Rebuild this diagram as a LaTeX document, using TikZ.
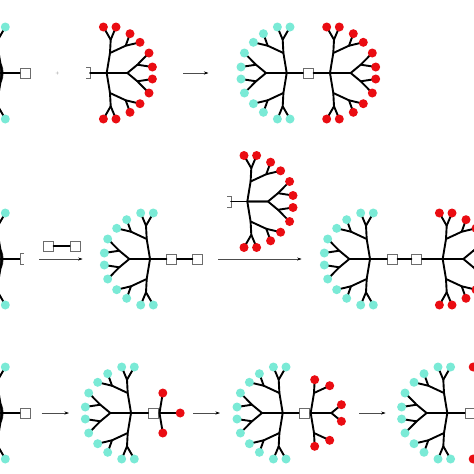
\documentclass[tikz,border=0pt]{standalone}
\usetikzlibrary{arrows.meta}
\definecolor{dred}{RGB}{234,12,18}
\definecolor{dcyan}{RGB}{122,234,214}
\tikzset{
  branch/.style={line width=1.9pt, line cap=round, line join=round},
  linker/.style={draw=gray!85!black, fill=white, line width=0.7pt,
                 minimum size=10pt, inner sep=0pt},
  brk/.style={draw=gray!85!black, line width=0.7pt},
  react/.style={draw=gray!60!black, line width=0.6pt,
                -{Stealth[length=4.5pt,width=3pt,color=black]}},
}
% dendrons: core at (#1,#2), facing #3 (1 right, -1 left), leaves in #4
\newcommand{\dendI}[4]{%
  \begin{scope}[shift={(#1,#2)},xscale=#3]
    \draw[branch] (0,0) -- (20.7,0);
    \draw[branch] (3.3,-20) -- (0,0) -- (3.3,20);
    \foreach \x/\y in {3.3/-20, 20.7/0, 3.3/20}
      \fill[#4] (\x,\y) circle (4.5pt);
  \end{scope}}
\newcommand{\dendII}[4]{%
  \begin{scope}[shift={(#1,#2)},xscale=#3]
    \foreach \s in {1,-1}{
      \begin{scope}[yscale=\s]
        \draw[branch] (0,0) -- (3.3,-20) -- (4,-33.3);
        \draw[branch] (3.3,-20) -- (19,-27.3);
        \draw[branch] (0,0) -- (20.7,0) -- (30.7,-8.3);
      \end{scope}}
    \foreach \s in {1,-1}{
      \begin{scope}[yscale=\s]
        \foreach \x/\y in {4/-33.3, 19/-27.3, 30.7/-8.3}
          \fill[#4] (\x,\y) circle (4.5pt);
      \end{scope}}
  \end{scope}}
\newcommand{\dendIII}[4]{%
  \begin{scope}[shift={(#1,#2)},xscale=#3]
    \foreach \s in {1,-1}{
      \begin{scope}[yscale=\s]
        \draw[branch] (0,0) -- (3.3,-20) -- (4,-33.3) -- (-3.3,-46);
        \draw[branch] (4,-33.3) -- (9.3,-46);
        \draw[branch] (3.3,-20) -- (19,-27.3) -- (23.3,-39.3);
        \draw[branch] (19,-27.3) -- (33.3,-30.7);
        \draw[branch] (0,0) -- (20.7,0) -- (30.7,-8.3) -- (42.3,-20);
        \draw[branch] (30.7,-8.3) -- (45.7,-6);
      \end{scope}}
    \foreach \s in {1,-1}{
      \begin{scope}[yscale=\s]
        \foreach \x/\y in {-3.3/-46, 9.3/-46, 23.3/-39.3, 33.3/-30.7,
                           42.3/-20, 45.7/-6}
          \fill[#4] (\x,\y) circle (4.5pt);
      \end{scope}}
  \end{scope}}
% open end of a stem at (#1,#2), open toward -#3
\newcommand{\openend}[3]{%
  \begin{scope}[shift={(#1,#2)},xscale=#3]
    \draw[brk] (-2,-5.5) -- (2,-5.5) -- (2,5.5) -- (-2,5.5);
  \end{scope}}
\newcommand{\blob}[1]{\fill[black!85] (-2,#1) ellipse (5.5pt and 12pt);}

\begin{document}
\begin{tikzpicture}[x=1pt,y=-1pt]
  \clip (0,0) rectangle (474,474);
  \fill[white] (0,0) rectangle (474,474);
 %
 % row 1
  \blob{73}
  \dendIII{2}{73}{-1}{dcyan}
  \coordinate (c1) at (2,73);
  \node[linker] (s1) at (25,73) {};
  \draw[branch] (c1) -- (s1);
  \node[text=gray!70!black, inner sep=0pt] (plus) at (57.5,73.3)
    {\fontsize{4}{4}\selectfont +};
  \openend{88}{73}{1}
  \coordinate (e1) at (90,73);
  \coordinate (c2) at (106.7,73);
  \draw[branch] (e1) -- (c2);
  \dendIII{106.7}{73}{1}{dred}
  \coordinate (a1) at (183.3,73);
  \coordinate (b1) at (208.5,73);
  \draw[react] (a1) -- (b1);
  \coordinate (c3) at (286.7,73);
  \coordinate (c4) at (330,73);
  \node[linker] (s2) at (308.3,73) {};
  \draw[branch] (c3) -- (s2) -- (c4);
  \dendIII{286.7}{73}{-1}{dcyan}
  \dendIII{330}{73}{1}{dred}
 %
 % row 2
  \blob{259}
  \dendIII{2}{259}{-1}{dcyan}
  \coordinate (c5) at (2,259);
  \coordinate (e2) at (20,259);
  \draw[branch] (c5) -- (e2);
  \openend{22}{259}{-1}
  \coordinate (a2) at (39.3,259);
  \coordinate (b2) at (82.7,259);
  \draw[react] (a2) -- (b2);
  \node[linker] (l1) at (48.3,246) {};
  \node[linker] (l2) at (75,246) {};
  \draw[branch] (l1) -- (l2);
  \coordinate (c6) at (150,259);
  \node[linker] (s3) at (171.7,259) {};
  \node[linker] (s4) at (197.7,259) {};
  \draw[branch] (c6) -- (s3) -- (s4);
  \dendIII{150}{259}{-1}{dcyan}
  \openend{229}{201.5}{1}
  \coordinate (e3) at (231,201.5);
  \coordinate (c7) at (247.3,201.5);
  \draw[branch] (e3) -- (c7);
  \dendIII{247.3}{201.5}{1}{dred}
  \coordinate (a3) at (218.3,259);
  \coordinate (b3) at (301.7,259);
  \draw[react] (a3) -- (b3);
  \coordinate (c8) at (370,259);
  \coordinate (c9) at (442.7,259);
  \node[linker] (s5) at (392.3,259) {};
  \node[linker] (s6) at (416.7,259) {};
  \draw[branch] (c8) -- (s5) -- (s6) -- (c9);
  \dendIII{370}{259}{-1}{dcyan}
  \dendIII{442.7}{259}{1}{dred}
 %
 % row 3
  \blob{413}
  \dendIII{2}{413}{-1}{dcyan}
  \coordinate (c10) at (2,413);
  \node[linker] (s7) at (25,413) {};
  \draw[branch] (c10) -- (s7);
  \coordinate (a4) at (41.7,413);
  \coordinate (b4) at (69,413);
  \draw[react] (a4) -- (b4);
  \coordinate (c11) at (131,413);
  \coordinate (c12) at (159.5,413);
  \node[linker] (s8) at (153.5,413) {};
  \draw[branch] (c11) -- (s8);
  \dendIII{131}{413}{-1}{dcyan}
  \dendI{159.5}{413}{1}{dred}
  \coordinate (a5) at (193.3,413);
  \coordinate (b5) at (220,413);
  \draw[react] (a5) -- (b5);
  \coordinate (c13) at (282.7,413);
  \coordinate (c14) at (310.7,413);
  \node[linker] (s9) at (304,413) {};
  \draw[branch] (c13) -- (s9);
  \dendIII{282.7}{413}{-1}{dcyan}
  \dendII{310.7}{413}{1}{dred}
  \coordinate (a6) at (359.3,413);
  \coordinate (b6) at (385.7,413);
  \draw[react] (a6) -- (b6);
  \coordinate (c15) at (447.3,413);
  \coordinate (c16) at (476.5,413);
  \node[linker] (s10) at (470,413) {};
  \draw[branch] (c15) -- (s10);
  \dendIII{447.3}{413}{-1}{dcyan}
  \dendIII{476.5}{413}{1}{dred}
\end{tikzpicture}
\end{document}
